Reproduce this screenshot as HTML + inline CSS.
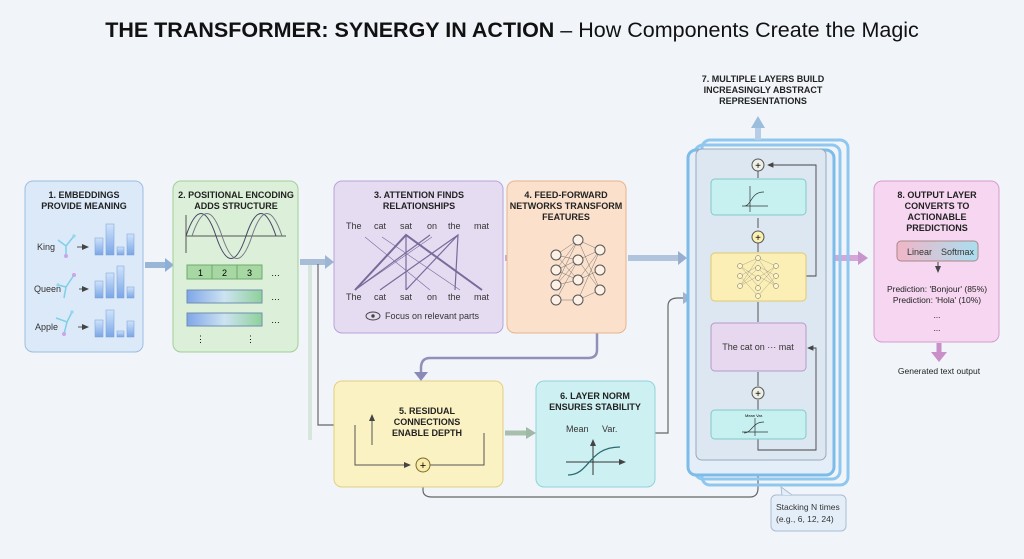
<!DOCTYPE html>
<html><head><meta charset="utf-8"><style>
body{margin:0;width:1024px;height:559px;background:#f1f5f9;font-family:"Liberation Sans",sans-serif;overflow:hidden}
svg{display:block}
.t{font-weight:bold;font-size:9px;fill:#222;text-anchor:middle}
.s{font-size:9px;fill:#333}
</style></head><body>
<svg width="1024" height="559" viewBox="0 0 1024 559">
<defs>
<linearGradient id="bar" x1="0" y1="0" x2="0" y2="1"><stop offset="0" stop-color="#cfe3fb"/><stop offset="1" stop-color="#7aa6e6"/></linearGradient>
<linearGradient id="enc" x1="0" x2="1"><stop offset="0" stop-color="#7fa6e8"/><stop offset="0.5" stop-color="#cde3f1"/><stop offset="1" stop-color="#8fd19a"/></linearGradient>
<linearGradient id="ls" x1="0" x2="1"><stop offset="0" stop-color="#f1b6c7"/><stop offset="1" stop-color="#a9dff0"/></linearGradient>
<marker id="ah" markerWidth="8" markerHeight="8" refX="6" refY="4" orient="auto"><path d="M0,1 L7,4 L0,7z" fill="#444"/></marker>
</defs>
<text x="512" y="37" text-anchor="middle" font-size="21.5" fill="#111"><tspan font-weight="bold">THE TRANSFORMER: SYNERGY IN ACTION</tspan> – How Components Create the Magic</text>

<!-- connectors -->
<path d="M145 265 H168" stroke="#9ab6d6" stroke-width="6"/><path d="M165 258 L174 265 L165 272z" fill="#8fb0d6"/>
<path d="M300 262 H328" stroke="#a8bed6" stroke-width="6"/><path d="M325 255 L334 262 L325 269z" fill="#9db5d3"/>
<path d="M505 258 H528" stroke="#c9a9d6" stroke-width="6"/><path d="M526 251 L535 258 L526 265z" fill="#b89bd0"/>
<path d="M628 258 H680" stroke="#b0c4de" stroke-width="6"/><path d="M678 251 L687 258 L678 265z" fill="#97aed0"/>
<path d="M820 258 H860" stroke="#d7a6d8" stroke-width="6"/><path d="M858 251 L868 258 L858 265z" fill="#c894cc"/>
<path d="M318 264 V425 H355" stroke="#666" stroke-width="1.2" fill="none"/>
<path d="M310 265 V440" stroke="#d7e6dc" stroke-width="4" fill="none"/>
<path d="M597 333 V350 Q597 358 588 358 H430 Q421 358 421 368 V376" stroke="#9090b8" stroke-width="2.5" fill="none"/>
<path d="M414 372 L428 372 L421 381z" fill="#8a8ab8"/>
<path d="M505 433 H528" stroke="#a8bfae" stroke-width="5"/><path d="M526 427 L536 433 L526 439z" fill="#a0b8a6"/>
<path d="M655 433 H668 V306 Q668 298 678 298 H688" stroke="#666" stroke-width="1.2" fill="none"/>
<path d="M683 292 L692 298 L683 304z" fill="#9cb6cf"/>
<path d="M423 473 V490 Q423 497 432 497 H750 Q758 497 758 488 V470" stroke="#666" stroke-width="1.2" fill="none"/>
<path d="M752 468 L758 458 L764 468z" fill="#8eb0d8"/>

<!-- box1 -->
<rect x="25" y="181" width="118" height="171" rx="8" fill="#dbe9f8" stroke="#9dbde0"/>
<text class="t" x="84" y="198">1. EMBEDDINGS</text><text class="t" x="84" y="209">PROVIDE MEANING</text>
<g font-size="9" fill="#333">
<text x="37" y="250">King</text><text x="34" y="292">Queen</text><text x="35" y="330">Apple</text></g>
<g stroke="#7fd0e6" stroke-width="1.5" fill="none"><path d="M58 240 L66 246 L74 236 M66 246 L66 256"/><path d="M58 285 L66 287 L74 275 M66 287 L64 298"/><path d="M56 318 L67 322 L72 312 M67 322 L64 334"/></g>
<g fill="#c9a6e8"><circle cx="66" cy="256" r="2"/><circle cx="74" cy="275" r="2"/><circle cx="64" cy="334" r="2"/><circle cx="74" cy="236" r="1.6" fill="#8fd8ea"/><circle cx="58" cy="285" r="1.6" fill="#8fd8ea"/><circle cx="72" cy="312" r="1.6" fill="#8fd8ea"/></g>
<g stroke="#555" fill="none"><path d="M77 247 H88" marker-end="url(#ah)"/><path d="M79 289 H88" marker-end="url(#ah)"/><path d="M78 327 H88" marker-end="url(#ah)"/></g>
<g fill="url(#bar)" stroke="#7da0d4" stroke-width="0.5">
<rect x="95" y="238" width="8" height="17"/><rect x="106" y="224" width="8" height="31"/><rect x="117" y="247" width="7" height="8"/><rect x="127" y="234" width="7" height="21"/>
<rect x="95" y="281" width="8" height="17"/><rect x="106" y="273" width="8" height="25"/><rect x="117" y="266" width="7" height="32"/><rect x="127" y="287" width="7" height="11"/>
<rect x="95" y="320" width="8" height="17"/><rect x="106" y="310" width="8" height="27"/><rect x="117" y="331" width="7" height="6"/><rect x="127" y="321" width="7" height="16"/></g>

<!-- box2 -->
<rect x="173" y="181" width="125" height="171" rx="8" fill="#dcefd8" stroke="#9fcf98"/>
<text class="t" x="236" y="198">2. POSITIONAL ENCODING</text><text class="t" x="236" y="209">ADDS STRUCTURE</text>
<path d="M186 215 V253 M186 236 H286" stroke="#555" fill="none"/>
<path d="M186 236 C196 206 206 206 216 236 S236 266 246 236 S266 206 276 236" stroke="#446" fill="none"/>
<path d="M192 236 C202 206 212 206 222 236 S242 266 252 236 S272 206 282 236" stroke="#778" fill="none"/>
<rect x="187" y="265" width="75" height="14" fill="#a7d8a3" stroke="#6fa86c"/>
<path d="M212 265 V279 M237 265 V279" stroke="#6fa86c"/>
<text x="198" y="276" font-size="9">1</text><text x="222" y="276" font-size="9">2</text><text x="247" y="276" font-size="9">3</text>
<rect x="187" y="290" width="75" height="13" fill="url(#enc)" stroke="#6f8fb0"/>
<rect x="187" y="313" width="75" height="13" fill="url(#enc)" stroke="#6f8fb0"/>
<text x="271" y="276" font-size="9">…</text><text x="271" y="300" font-size="9">…</text><text x="271" y="323" font-size="9">…</text>
<text x="196" y="342" font-size="9">⋮</text><text x="246" y="342" font-size="9">⋮</text>

<!-- box3 -->
<rect x="334" y="181" width="169" height="152" rx="8" fill="#e5dcf2" stroke="#b7a3d6"/>
<text class="t" x="419" y="198">3. ATTENTION FINDS</text><text class="t" x="419" y="209">RELATIONSHIPS</text>
<g font-size="9" fill="#333"><text x="346" y="229">The</text><text x="374" y="229">cat</text><text x="400" y="229">sat</text><text x="427" y="229">on</text><text x="448" y="229">the</text><text x="474" y="229">mat</text>
<text x="346" y="300">The</text><text x="374" y="300">cat</text><text x="400" y="300">sat</text><text x="427" y="300">on</text><text x="448" y="300">the</text><text x="474" y="300">mat</text></g>
<g stroke="#7a6a9a" fill="none"><path d="M355 290 L406 235 L482 290" stroke-width="2"/><path d="M406 235 V290 M380 290 L458 235 L455 290 M355 290 L430 235 M406 290 L458 235" stroke-width="1.2"/><path d="M365 237 L430 290 M382 237 L460 290 M432 237 L355 290" stroke-width="0.6"/></g>
<ellipse cx="373" cy="316" rx="7" ry="4" fill="none" stroke="#444"/><circle cx="373" cy="316" r="1.7" fill="#444"/>
<text class="s" x="385" y="319" font-size="8.5">Focus on relevant parts</text>

<!-- box4 -->
<rect x="507" y="181" width="119" height="152" rx="8" fill="#fbe1cc" stroke="#e8b48a"/>
<text class="t" x="566" y="198">4. FEED-FORWARD</text><text class="t" x="566" y="209">NETWORKS TRANSFORM</text><text class="t" x="566" y="220">FEATURES</text>
<g stroke="#555" stroke-width="0.4" fill="none">
<path d="M556 255 L578 240 M556 255 L578 260 M556 255 L578 280 M556 270 L578 240 M556 270 L578 260 M556 270 L578 280 M556 285 L578 240 M556 285 L578 260 M556 285 L578 280 M556 300 L578 260 M556 300 L578 300 M578 240 L600 250 M578 260 L600 250 M578 280 L600 270 M578 300 L600 290 M578 240 L600 290 M578 300 L600 250 M578 260 L600 290 M578 280 L600 250"/></g>
<g fill="#fdf1e6" stroke="#555"><circle cx="556" cy="255" r="5"/><circle cx="556" cy="270" r="5"/><circle cx="556" cy="285" r="5"/><circle cx="556" cy="300" r="5"/><circle cx="578" cy="240" r="5"/><circle cx="578" cy="260" r="5"/><circle cx="578" cy="280" r="5"/><circle cx="578" cy="300" r="5"/><circle cx="600" cy="250" r="5"/><circle cx="600" cy="270" r="5"/><circle cx="600" cy="290" r="5"/></g>

<!-- box5 -->
<rect x="334" y="381" width="169" height="106" rx="8" fill="#fbf2c4" stroke="#e2cf7f"/>
<text class="t" x="427" y="414">5. RESIDUAL</text><text class="t" x="427" y="425">CONNECTIONS</text><text class="t" x="427" y="436">ENABLE DEPTH</text>
<g stroke="#555" fill="none"><path d="M372 445 V415" marker-end="url(#ah)"/><path d="M355 425 V465 H410" marker-end="url(#ah)"/><path d="M430 465 H484 V433"/></g>
<circle cx="423" cy="465" r="7" fill="#f9ecaa" stroke="#7a6a2a"/><text x="423" y="469" font-size="11" text-anchor="middle">+</text>

<!-- box6 -->
<rect x="536" y="381" width="119" height="106" rx="8" fill="#cdf0f2" stroke="#8fd3d8"/>
<text class="t" x="595" y="399">6. LAYER NORM</text><text class="t" x="595" y="410">ENSURES STABILITY</text>
<text class="s" x="566" y="432" font-size="10">Mean</text><text class="s" x="602" y="432" font-size="10">Var.</text>
<g stroke="#333" fill="none"><path d="M566 462 H625" marker-end="url(#ah)"/><path d="M593 475 V440" marker-end="url(#ah)"/><path d="M568 475 C590 475 588 447 620 447" stroke="#2c6b74" stroke-width="1.3"/></g>

<!-- stack -->
<rect x="702" y="140" width="146" height="345" rx="8" fill="none" stroke="#8fc7ef" stroke-width="3"/>
<rect x="695" y="145" width="145" height="334" rx="8" fill="none" stroke="#8fc7ef" stroke-width="3"/>
<rect x="688" y="150" width="146" height="325" rx="8" fill="#e4eef9" stroke="#7dbbe9" stroke-width="3"/>
<rect x="696" y="149" width="130" height="311" rx="6" fill="#dde7f2" stroke="#99a8ba"/>
<path d="M758 140 V126" stroke="#b5cde6" stroke-width="6"/><path d="M751 128 L758 116 L765 128z" fill="#9dbddd"/>
<text class="t" x="763" y="82">7. MULTIPLE LAYERS BUILD</text><text class="t" x="763" y="93">INCREASINGLY ABSTRACT</text><text class="t" x="763" y="104">REPRESENTATIONS</text>
<g stroke="#444" fill="none" stroke-width="0.9">
<path d="M758 168 V178 M758 218 V228 M758 240 V252 M758 302 V322 M758 372 V386 M758 400 V410"/>
<path d="M806 276 H816 V165 H768" marker-end="url(#ah)"/>
<path d="M758 438 V450 H816 V348 H808" marker-end="url(#ah)"/>
</g>
<rect x="711" y="179" width="95" height="36" rx="4" fill="#c6f1f0" stroke="#82c8cc"/>
<rect x="711" y="253" width="95" height="48" rx="4" fill="#fbefb5" stroke="#e0c870"/>
<rect x="711" y="323" width="95" height="48" rx="4" fill="#e8d8ef" stroke="#b49ac8"/>
<rect x="711" y="410" width="95" height="29" rx="4" fill="#c6f1f0" stroke="#82c8cc"/>
<g fill="#eef0e6" stroke="#555"><circle cx="758" cy="165" r="6"/><circle cx="758" cy="237" r="6" fill="#fbf0b0"/><circle cx="758" cy="393" r="6"/></g>
<g font-size="10" text-anchor="middle"><text x="758" y="169">+</text><text x="758" y="241">+</text><text x="758" y="397">+</text></g>
<text x="758" y="350" font-size="9" text-anchor="middle" fill="#333">The  cat  on  ···  mat</text>
<g stroke="#333" fill="none" stroke-width="0.7"><path d="M742 206 H768 M750 212 V186 M744 206 C752 206 750 192 764 192"/><path d="M742 432 H768 M755 436 V418 M744 433 C752 433 752 422 764 422"/></g>
<text x="745" y="417" font-size="4">Mean  Var.</text>
<g stroke="#777" stroke-width="0.3" fill="none"><path d="M740 266 L758 258 L776 266 M740 276 L758 266 L776 276 M740 286 L758 276 L776 286 M740 266 L758 286 L776 266 M740 286 L758 258 L776 286 M740 276 L758 296 L776 276 M740 266 L758 278 M740 286 L758 268 M758 268 L776 286 M758 278 L776 266"/></g>
<g fill="#fdf4c8" stroke="#666" stroke-width="0.5"><circle cx="740" cy="266" r="2.5"/><circle cx="740" cy="276" r="2.5"/><circle cx="740" cy="286" r="2.5"/><circle cx="758" cy="258" r="2.5"/><circle cx="758" cy="268" r="2.5"/><circle cx="758" cy="278" r="2.5"/><circle cx="758" cy="288" r="2.5"/><circle cx="758" cy="296" r="2.5"/><circle cx="776" cy="266" r="2.5"/><circle cx="776" cy="276" r="2.5"/><circle cx="776" cy="286" r="2.5"/></g>
<rect x="771" y="495" width="75" height="36" rx="5" fill="#e4eef9" stroke="#a9bdd2"/>
<path d="M782 495 L781 487 L792 495" fill="#e4eef9" stroke="#a9bdd2"/>
<text x="776" y="510" font-size="8.5" fill="#333">Stacking N times</text><text x="776" y="522" font-size="8.5" fill="#333">(e.g., 6, 12, 24)</text>

<!-- box8 -->
<rect x="874" y="181" width="125" height="161" rx="8" fill="#f6d6f0" stroke="#d79ccb"/>
<text class="t" x="937" y="198">8. OUTPUT LAYER</text><text class="t" x="937" y="209">CONVERTS TO</text><text class="t" x="937" y="220">ACTIONABLE</text><text class="t" x="937" y="231">PREDICTIONS</text>
<rect x="897" y="241" width="81" height="20" rx="4" fill="url(#ls)" stroke="#a88"/>
<text x="907" y="255" font-size="9" fill="#333">Linear</text><text x="941" y="255" font-size="9" fill="#333">Softmax</text>
<path d="M938 262 V272" stroke="#444" marker-end="url(#ah)"/>
<text x="937" y="292" font-size="8.5" text-anchor="middle" fill="#222">Prediction: 'Bonjour' (85%)</text>
<text x="937" y="303" font-size="8.5" text-anchor="middle" fill="#222">Prediction: 'Hola' (10%)</text>
<text x="937" y="318" font-size="8" text-anchor="middle">...</text><text x="937" y="331" font-size="8" text-anchor="middle">...</text>
<path d="M939 343 V352" stroke="#c88fc8" stroke-width="5"/><path d="M931 352 L947 352 L939 362z" fill="#c88fc8"/>
<text x="939" y="374" font-size="8.5" text-anchor="middle" fill="#222">Generated text output</text>
</svg>
</body></html>
